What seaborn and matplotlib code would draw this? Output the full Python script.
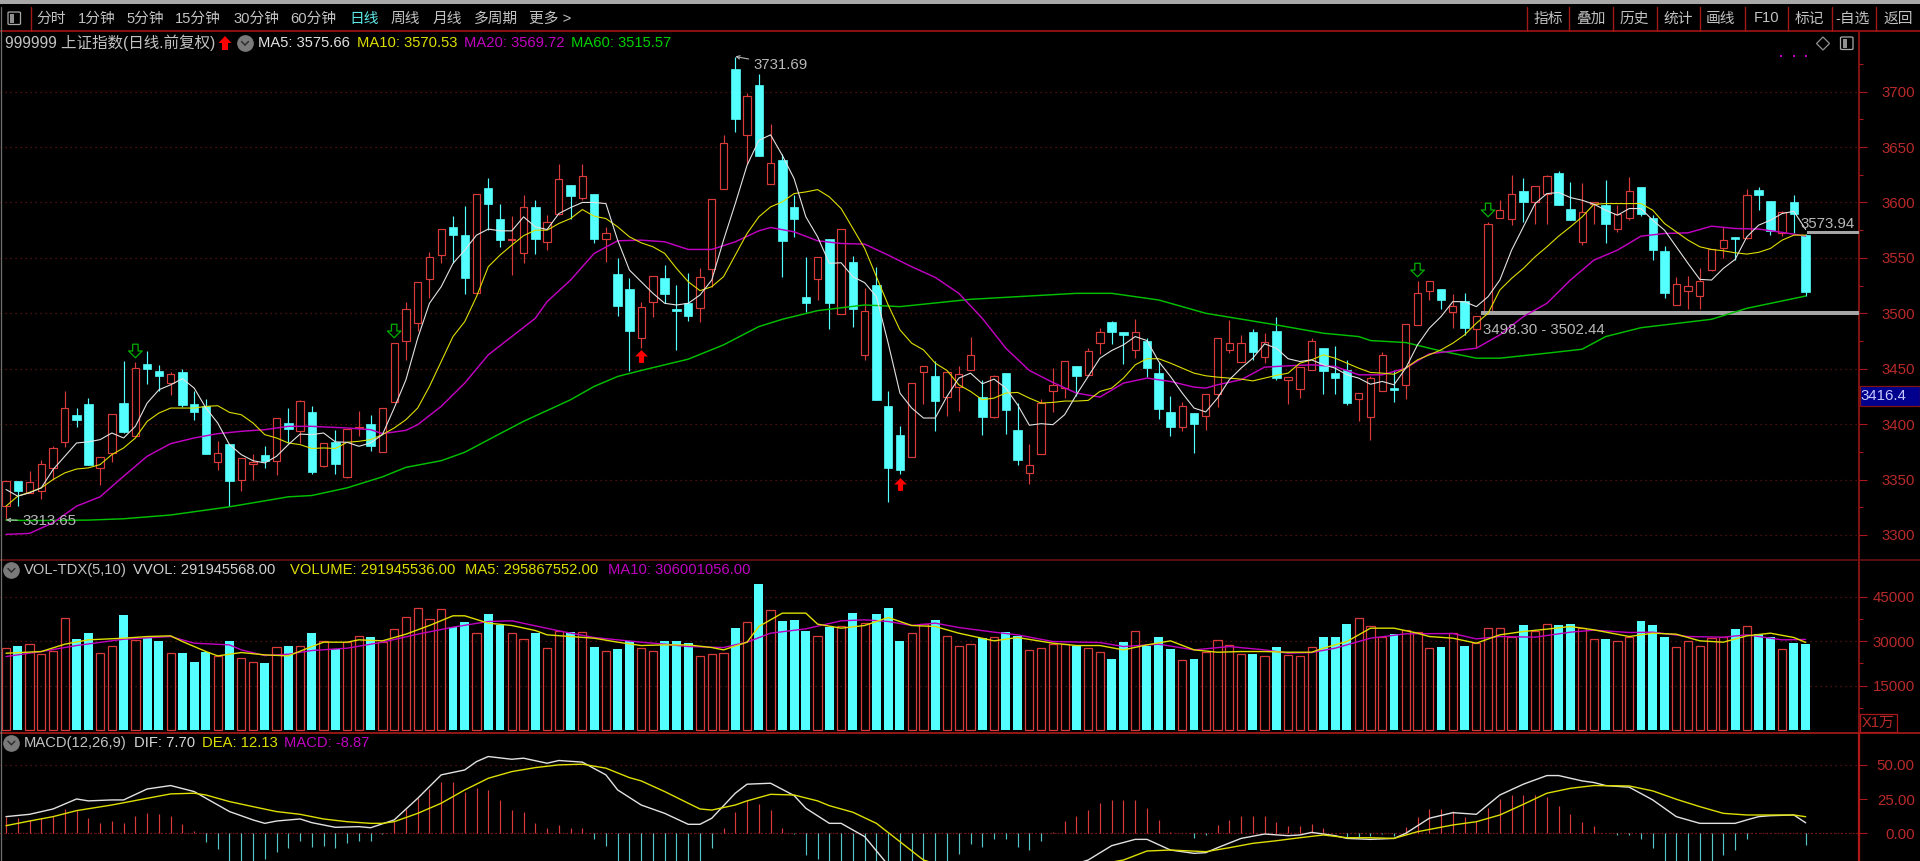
import numpy as np
import matplotlib
matplotlib.use("Agg")
import matplotlib.pyplot as plt
from matplotlib.lines import Line2D
from matplotlib.patches import Rectangle, Polygon, FancyBboxPatch
from matplotlib.path import Path
import seaborn as sns

# Daily OHLC of the index, one entry per session
open_ = [3326,3348.5,3338,3340,3360,3383.6,3408,3418,3360,3374,3419,3389,3454,3448,3436.7,3447,3418,3416,3365.6,3382,
         3350,3364,3372,3367,3400.7,3393.5,3411,3362,3383.6,3352,3396.5,3400,3374.6,3419.6,3474.8,3491.6,3530.7,3552.6,3578,3571,
         3518,3613,3585,3566,3554,3596,3564,3590,3616,3604,3608,3567,3535,3521.6,3477.5,3510.5,3531.5,3503.5,3509,3504.5,
         3539.6,3612,3720.5,3660.5,3706,3616.4,3638.6,3596,3515,3531,3566.6,3499.4,3546.5,3462.5,3525.5,3416,3390,3370.4,3447,3443,
         3424.4,3433.4,3449,3424.4,3406,3446,3394.4,3356,3373.4,3430,3432.5,3452.6,3444.5,3473,3492.5,3483,3467,3475,3446,3411,
         3397.4,3410,3407.6,3427.4,3467,3455.6,3483.5,3461,3484.4,3440,3432,3449,3469,3446,3448.4,3423,3406.4,3429.8,3432.5,3435.5,
         3489.5,3520,3521.6,3501,3511,3485.6,3500,3586,3585,3610,3600,3608,3626.6,3594.5,3564.5,3599,3597.5,3576,3586,3614,
         3586.4,3556.4,3507.5,3520,3515.6,3539,3559,3568.4,3567.5,3611.6,3601.4,3572.6,3600,3570.5]
high = [3348.5,3348.5,3358,3368,3380,3430,3414.5,3423.5,3370,3409,3457,3456,3466,3453.5,3446.6,3449.6,3429.5,3422.6,3384.5,3382,
        3369.8,3373,3380,3405.5,3414.5,3422,3416,3383,3394.4,3396,3412,3408,3414.5,3473,3510.5,3528,3555.6,3575.8,3588,3597,
        3608,3622,3599,3588,3607,3602,3588.7,3635,3616,3635,3608,3578,3549.5,3531.5,3510,3533.7,3543.5,3525.5,3536,3540.5,
        3603.5,3661,3731.69,3698.6,3716,3670.4,3644,3606.5,3551,3550.4,3566.6,3576.5,3551.6,3522.5,3542,3429.5,3398,3437,3452.6,3456.5,
        3447,3452.6,3478.4,3440,3444.5,3446,3419,3382.4,3422.6,3450.5,3457,3452.6,3468.5,3486.5,3493.4,3483,3494.6,3477.5,3456,3425.6,
        3419.6,3410,3427,3477.5,3494,3480.5,3485.6,3482,3497,3442.4,3451.4,3477.5,3469,3470.6,3458,3428,3443,3465.5,3448.4,3490,
        3529.4,3529,3521.6,3517,3518,3497.6,3582.8,3602.6,3625,3622,3614.6,3624.6,3628.4,3618.5,3617.6,3600.6,3620.6,3597.5,3623,3614,
        3588.5,3560.6,3533,3533.6,3540.5,3557.6,3578,3568.4,3612.5,3614,3601.4,3592.4,3607,3571.5]
low = [3313.65,3326,3338,3332,3350,3379,3397,3363,3345,3366,3392,3389,3436,3429.5,3426.5,3415,3404,3373,3359,3326,
       3339.5,3350,3360,3354.5,3383,3383,3355,3361,3355,3351,3389,3376,3374.6,3419.6,3458,3484,3514,3545,3545,3517,
       3518,3575,3560,3534.6,3545,3553.5,3557,3589,3585.5,3602,3563.5,3546.5,3497.6,3447.5,3468.5,3496.4,3509,3467,3493.4,3492.5,
       3524,3612,3663.5,3635,3642,3616.4,3532.4,3569,3501.5,3512,3485.6,3499.4,3488,3458,3422,3329.6,3355.4,3370.4,3418.4,3393.5,
       3407,3411.5,3449,3390,3405.5,3391.4,3363.5,3346.4,3373.4,3410.6,3423.5,3425,3444.5,3463.4,3472.4,3454.4,3459.5,3442.4,3405,3389,
       3393.5,3374,3394.4,3415.4,3464.6,3455.6,3458,3455,3440,3418.4,3424,3449,3427.4,3427.4,3417.5,3403,3386,3429.8,3420,3422.6,
       3489.5,3512,3503.6,3487,3480.5,3468.5,3499,3586,3579.5,3582.5,3580.4,3581,3597.5,3584,3562,3581,3563.6,3573,3584,3587.6,
       3548,3514,3507.5,3504,3503.6,3538.4,3549.5,3548,3566.6,3593.6,3570.5,3569.6,3572,3515.6]
close = [3348.5,3340,3348,3364,3378.5,3414.5,3404,3363,3370,3409,3392.6,3451,3450,3443,3445,3417,3410.6,3373,3374,3348.8,
         3369.8,3365.5,3367,3405.5,3396,3421,3357,3383,3364,3396,3397.5,3380,3414.5,3473,3503.6,3528,3551,3575.8,3570.4,3532,
         3608,3598.6,3566,3567,3595.6,3567,3582,3621,3606,3623.6,3567,3572.6,3506.6,3484,3505.4,3533.7,3517.4,3502.5,3497.6,3532.4,
         3603.5,3653.6,3675,3696,3642,3636,3564.8,3585,3509.6,3550.4,3509.6,3576.5,3503.6,3502.4,3422,3360,3358.4,3437,3452.6,3420.5,
         3447,3445.4,3462.8,3406,3443.6,3413,3368,3363.5,3419,3435.5,3457,3443,3466,3483.5,3483.5,3480.5,3483,3451,3414,3397,
         3416.6,3400.4,3427,3477.5,3473,3473,3465.5,3474,3442,3442.4,3451.4,3475,3448,3442,3419,3428,3442,3462.8,3431,3490,
         3518,3529,3512,3507,3486.5,3497.6,3581,3593,3608,3600.5,3614.6,3624,3597.5,3584,3591,3600.6,3580.4,3590,3610,3590,
         3557,3518.6,3526.4,3524.6,3529.4,3557.6,3566,3567,3606.5,3606.5,3574.4,3591,3589.4,3519.5]

# Moving averages of the close
ma5 = [3341,3335,3338,3342.5,3359,3371,3383,3384,3386,3392,3387.5,3398,3419,3431,3435.5,3441,3432.5,3414.5,3401,3381.5,
       3372.5,3367,3365,3371,3381.5,3391,3390.5,3392,3384,3383.6,3380,3383,3390.5,3414.5,3440,3477.5,3509,3524,3545,3557,
       3570.5,3576,3574.4,3574.4,3587,3578,3575.6,3590,3595.4,3600,3600,3599,3566,3539,3528.5,3518,3509,3507.5,3509,3516.5,
       3530,3566,3599,3633.5,3656,3661,3642.5,3621.5,3587,3569,3545,3545.6,3533,3527.6,3515,3473,3428,3414.5,3405.5,3405.5,
       3425,3441.5,3446,3436.4,3440.6,3432.5,3417.5,3399,3400.4,3399.5,3408.5,3426.5,3443,3459.5,3466.4,3471.5,3479,3475.4,3456.5,3443,
       3428,3414.5,3411,3423.5,3440,3450.5,3459.5,3472.4,3468.5,3459,3456.5,3458,3453.5,3450.5,3444.5,3441.5,3436,3438.5,3435.5,3450.5,
       3471.5,3486.5,3497,3510.5,3510.5,3506,3515,3530,3557,3578,3599,3608,3609,3604.4,3602,3598.4,3593,3588.5,3594.5,3594.5,
       3584,3575,3560,3545,3530.6,3530,3540.5,3548.6,3569,3579.5,3584,3590,3592,3575.66]
ma10 = [3326,3335,3338.5,3342.5,3350,3356,3359.5,3360.5,3363.5,3372.5,3378.5,3387.5,3402.5,3410,3414.5,3414.5,3414.5,3416,3416.6,3410.6,
        3408.5,3401,3390.5,3387.5,3383,3381.5,3378,3378.5,3378,3383.6,3384.5,3386,3390.5,3396.5,3404,3414.5,3434,3456.5,3479,3492.5,
        3515,3542,3552.5,3561.5,3570,3575,3575,3581,3585.5,3593.6,3587.6,3585.5,3578,3569,3563.6,3560,3554,3540.5,3528.5,3520.4,
        3524,3533,3552.5,3572,3587,3596,3600.5,3608,3609.5,3611.6,3605,3594.5,3576.5,3558.5,3533,3507.5,3485,3473,3467,3455,
        3448.4,3435.5,3429.5,3422,3423.5,3428,3428.6,3423.5,3419,3419.6,3420.8,3420.8,3421.4,3429.5,3432.5,3441.5,3453.5,3459,3459,3455,
        3450.5,3446,3443.6,3442.4,3441.5,3440.6,3439,3441.5,3444,3446,3455,3458,3462.5,3459.5,3455,3450.5,3446.6,3446,3445,3450.5,
        3458,3462.5,3467,3473,3480.5,3491,3500,3521,3531.5,3540.5,3551,3560,3569.6,3578,3587,3598.4,3599,3599,3599,3599,
        3593,3581,3573.5,3566,3560,3557.6,3556.4,3554.6,3553.4,3555,3558.5,3566,3570.5,3570.53]
ma20_idx = [0,2,4,6,8,10,12,14,16,18,20,22,24,26,29,31,32,34,35,37,39,41,43,45,46,48,50,52,54,56,58,60,62,64,65,67,69,71,73,75,
            77,79,81,83,85,87,89,91,93,95,97,99,101,102,103,105,107,109,111,113,115,117,119,121,123,125,127,129,131,133,135,137,139,141,143,145,147,149,151,153]
ma20 = [3300.5,3301.4,3311,3326,3334.4,3353,3371,3382.4,3387.5,3391.4,3393.5,3395,3398,3398,3396.5,3395,3391.4,3394.4,3399.5,3416,
        3437,3462.5,3479,3495.5,3510.5,3530,3554,3565.4,3566,3564.5,3557.6,3557.6,3564.5,3574.4,3577.4,3573.5,3565.4,3563,3562.4,3552.5,
        3542,3532.4,3518,3495.5,3468.5,3448.4,3437.6,3428,3424.4,3437,3441.5,3438.5,3433.4,3432.5,3435.5,3440,3451.4,3452.6,3453.5,3452,
        3444.5,3444.5,3450.5,3463.4,3466,3468.5,3480.5,3497,3509,3530,3548,3557,3569.6,3572,3572.6,3578.6,3576.5,3576,3573,3569.72]
ma60_idx = [0,2,7,10,14,19,24,26,29,32,34,37,39,42,44,48,50,52,54,58,61,64,66,69,73,76,82,85,91,94,98,102,108,112,115,116,119,122,125,127,131,134,136,139,145,148,153]
ma60 = [3313.4,3313,3313.4,3314.6,3318,3325.4,3334.4,3335.6,3342.5,3352.4,3361,3367,3374.6,3391.4,3402.5,3422,3434,3443,3448.4,3458.6,
        3471.5,3488,3494.6,3502.4,3507.5,3506,3512.6,3514.4,3518,3518,3512,3500,3489.5,3482,3479,3475.4,3473.6,3466,3459.5,3459.5,3464,3467.6,3479,3487,3494.6,3504.5,3515.57]

# Session volume, in units of 10,000 shares
volume = [27860,28540,29000,25600,26730,37790,30680,32825,25950,28430,38690,30460,31020,30230,25950,26170,23120,26280,25040,30230,
          24250,23010,22560,27970,28540,28540,32710,30120,27410,29670,31920,31470,29670,34070,38240,41170,37450,40830,34740,36550,
          32710,39140,35530,32710,30680,32825,27640,33280,33050,33050,28200,26850,27300,30120,27860,26730,30230,30230,29330,25040,
          25600,25950,34520,36430,49290,40380,36660,37000,33610,31920,34630,35300,39480,36100,39140,41170,30230,32710,35870,37110,
          31920,28540,29000,31250,31360,33050,31810,27180,27640,29210,28990,28540,27640,26280,23910,29890,33500,28310,31580,27300,
          23800,23910,26510,30570,28760,25600,25600,25150,28090,25380,25040,27970,31580,31580,35760,37790,35300,31360,32370,33840,
          32940,27640,28200,32710,28540,29550,34400,34400,31580,35420,33500,35760,35420,35760,34400,30680,30680,30230,31580,36660,
          35420,31580,28090,30230,28540,31250,31360,34070,34970,32490,31360,27300,29550,29194.55]
vma5_idx = [0,3,5,7,10,12,14,15,17,18,20,22,24,26,27,29,30,32,34,36,38,39,41,43,45,46,48,50,52,54,56,58,60,61,63,64,66,68,69,71,73,75,77,79,81,84,86,89,91,93,95,97,99,101,103,105,107,109,111,112,114,116,118,120,121,123,125,127,129,131,133,135,138,140,142,144,146,148,150,152,153]
vma5 = [25940,26510,28990,30460,31020,31580,31810,29890,26510,25040,26170,25380,25040,28200,29670,29670,30460,30120,32370,35310,38580,38580,36100,35310,33610,32150,31580,31020,29670,28540,
        28760,28760,27860,27070,29670,34970,39480,39480,35760,34400,35310,38010,35310,34970,32710,30120,31250,29330,28540,28540,27070,28760,30120,27070,26280,26510,26510,
        26280,26280,27640,29890,34400,34400,32710,31580,31020,29330,32150,33280,34070,34970,33840,31580,32710,32370,30120,29670,31810,32710,31250,29586.76]
vma10_idx = [0,3,6,10,14,16,19,20,22,24,26,29,32,35,38,41,43,47,50,54,56,58,61,63,65,68,71,73,75,77,79,81,84,86,89,93,95,98,101,104,107,109,111,113,116,119,123,125,127,130,133,135,138,140,143,146,148,151,153]
vma10 = [24820,26510,28540,30680,31580,29330,28760,27070,25150,25610,26850,27640,29670,32370,34740,36660,36890,33500,31250,29670,28990,28200,27860,29670,32710,34180,36890,37220,36660,35310,36100,34630,33050,32150,29890,29550,28200,28990,27070,28200,27070,
         25940,26170,27640,31020,32490,32600,30790,31580,31360,33050,33730,32940,33050,31580,31360,32150,30460,30600.11]

# MACD(12,26,9) lines and histogram
dif_idx = [0,2,4,6,7,9,10,12,14,16,17,19,21,22,23,25,26,28,30,31,33,35,37,39,40,41,43,44,46,47,49,51,52,54,56,58,59,60,62,63,65,67,68,70,71,73,75,78,83,88,92,94,96,97,99,101,102,103,105,107,109,110,111,113,114,116,118,119,121,123,125,127,129,131,132,134,135,136,138,140,142,144,147,148,149,150,152,153]
dif = [12.2,13.9,17.8,25.1,23.7,24.4,24.4,32.4,34.9,30.5,25.6,15.9,9.8,7.3,9.0,10.5,7.8,4.4,4.9,4.1,9.8,25.6,42.7,46.3,52.4,56.1,54.1,54.9,51.2,53.2,52,42.7,31.7,20.7,14.6,6.6,6.6,11,29.3,35.9,36.6,27.6,18.3,7.3,7.3,-2.4,-23.2,-31,-36,-30,-19.5,-9,-4.4,-4.4,-12.2,-14.6,-14.1,-10.5,-3.7,-0.5,
       -1.7,-1.2,0.7,-1.7,-3.7,-4.4,-3.7,0,11,15.1,13.9,28,35.9,42.2,42.2,38.3,37.1,34.9,33.7,24.4,12.2,7.3,7.3,9.8,12.2,12.9,13.4,7.70]
dea_idx = [0,2,4,6,9,12,14,16,17,19,21,23,25,27,29,31,32,33,35,37,39,41,43,45,47,49,51,53,54,56,58,59,60,62,63,65,67,69,70,72,74,76,78,82,87,92,95,97,99,102,104,106,108,110,112,114,116,118,120,123,125,127,129,131,133,135,138,140,142,144,146,148,150,152,153]
dea = [5.6,9,12.2,16.6,20.7,25.6,28.8,29.3,28,23.2,19.5,15.9,13.9,10.5,8.5,7.3,7.3,8.5,14.6,22,31.7,40.2,45.1,48,50,50.5,47.6,40.7,38.3,30.5,22,17.8,17,20.7,23.7,28.5,28,23.7,20.2,15.4,7.3,-6.1,-19.5,-30,-31,-24,-19.5,-12.9,-12.2,-13.4,-10.5,-7.3,-5.4,-3.2,-1.2,-3.2,-3.2,-3.7,1.2,6.1,8.5,13.4,21.2,29.3,32.9,34.9,34.6,31,24.9,19.5,14.6,13.4,13.4,13.4,12.13]
macd = [12,11,9.8,11,12.7,17.6,17,11,7.3,9.3,7.3,12.7,15.1,13.9,12.9,6.6,2,-6.1,-11.7,-20.5,
        -21.5,-22,-18.8,-13.4,-10.5,-5.4,-9.8,-9,-10.5,-7.3,-5.6,-5.4,-0.7,8.5,17.8,25.6,32.4,37.8,37.8,30,
        33.4,31.7,24.4,17,15.4,7.8,3.7,6.1,4.1,4.1,-4.4,-9,-21,-24,-26,-25,-25,-24,-22,-20,
        -10.5,4.1,15.9,24.4,21.2,17,3.7,-0.7,-15.9,-18.8,-21,-24,-25,-26,-26,-28,-27,-26,-25,-24,
        -21,-15.4,-8,-9.8,-4.1,-4.1,-9.8,-12.2,-5.4,0.7,9,12.7,16.8,22.4,24.1,24.1,24.1,18.8,9.8,0.7,
        0,-3.2,-1.2,5.9,9.8,12.7,12.7,12.9,8.5,5.6,5.6,6.6,3.7,0.5,-2.4,-2.4,-2,-0.2,-2,4.9,
        12.2,17.6,17.8,16.3,12.2,9.3,18.8,24.9,28,28,28,26.8,20.2,14.1,8.5,5.6,0,-1.2,-1.2,-4.1,
        -10.5,-20.2,-21,-21,-21,-21,-15.9,-12.2,-4.1,0.3,0.2,0.2,0.2,-8.87]

# Signal arrows: session index and price level
buy_idx, buy_lvl = [54, 76], [3461.5, 3346]
sell_idx, sell_lvl = [11, 33, 120, 126], [3466, 3484, 3539, 3593.2]

# Axis tick labels
price_ticks = [3300, 3350, 3400, 3450, 3500, 3550, 3600, 3650, 3700]
vol_ticks = [15000, 30000, 45000]
macd_ticks = [0, 25, 50]

toolbar_left = [("分时", 36), ("1分钟", 78), ("5分钟", 126), ("15分钟", 175), ("30分钟", 233), ("60分钟", 290),
                ("日线", 349), ("周线", 391), ("月线", 433), ("多周期", 474), ("更多 >", 529)]
toolbar_right = [("指标", 1534), ("叠加", 1576), ("历史", 1620), ("统计", 1664), ("画线", 1706),
                 ("F10", 1754), ("标记", 1795), ("-自选", 1835), ("返回", 1884)]
toolbar_sep = [1527, 1569, 1613, 1657, 1700, 1744.5, 1788, 1832, 1876]

RED = "#d93a3a"
CYAN = "#54ffff"
HIST_CYAN = "#55c4c4"
AXIS_RED = "#a81818"
LABEL_RED = "#b92a2a"
GRID = "#661616"
GREY = "#b8b8b8"
WHITE = "#e2e2e2"
YELLOW = "#dede00"
MAGENTA = "#c000c0"
GREEN = "#00c000"

sns.set_theme(style="white", rc={"axes.facecolor": "black", "figure.facecolor": "black", "savefig.facecolor": "black"})
plt.rcParams["font.family"] = ["Liberation Sans", "Noto Sans CJK SC", "DejaVu Sans"]

W, H = 1920, 861
RIGHT = 1858.6
fig = plt.figure(figsize=(W / 100, H / 100), dpi=100)


def fx(x):
    return x / W


def fy(y):
    return 1 - y / H


def panel(top, bottom, ylim, levels):
    ax = fig.add_axes([0, fy(bottom), RIGHT / W, (bottom - top) / H])
    ax.set_xlim(-0.51, 157.5)
    ax.set_ylim(*ylim)
    for s in ("top", "bottom", "left"):
        ax.spines[s].set_visible(False)
    ax.spines["right"].set_color(AXIS_RED)
    ax.spines["right"].set_linewidth(1.1)
    ax.hlines(levels, -0.51, 157.5, colors=GRID, linestyles=(0, (1, 3)), linewidth=0.9, zorder=0)
    return ax


def finish(ax, ylim, ticks, labels, minor):
    ax.set_xlim(-0.51, 157.5)
    ax.set_ylim(*ylim)
    ax.set_xticks([])
    ax.set_xlabel("")
    ax.set_ylabel("")
    ax.yaxis.tick_right()
    ax.set_yticks(ticks)
    ax.set_yticklabels(labels, ha="right", color=LABEL_RED, fontsize=10.8)
    ax.set_yticks(minor, minor=True)
    ax.tick_params(axis="y", which="major", length=5.8, width=0.8, color=AXIS_RED, pad=34.6, right=True)
    ax.tick_params(axis="y", which="minor", length=3.0, width=0.8, color=AXIS_RED, right=True)
    ax.grid(False)


def ftext(x, y, s, color=GREY, size=10.6, ha="left", **kw):
    fig.text(fx(x), fy(y), s, color=color, fontsize=size, ha=ha, va="center", **kw)


def line(x, y, color, ax, lw=0.8):
    sns.lineplot(x=x, y=y, color=color, linewidth=lw, ax=ax, estimator=None, errorbar=None, legend=False, zorder=5)


def fig_add(patch):
    patch.set_transform(fig.transFigure)
    fig.add_artist(patch)


def fig_rect(x0, y0, x1, y1, **kw):
    fig_add(Rectangle((fx(x0), fy(y1)), (x1 - x0) / W, (y1 - y0) / H, **kw))


def fig_line(x0, y0, x1, y1, color, lw=1.0):
    fig.add_artist(Line2D([fx(x0), fx(x1)], [fy(y0), fy(y1)], color=color, linewidth=lw, transform=fig.transFigure))


sessions = np.arange(len(close))
o, h, l, c = map(np.array, (open_, high, low, close))
up = c >= o
vols = np.array(volume)

# ---------- price panel ----------
price_ylim = (3278.3, 3754.7)
ax_p = panel(31, 559, price_ylim, price_ticks)
ax_p.vlines(sessions[up], l[up], h[up], color=RED, linewidth=0.85, zorder=2)
ax_p.vlines(sessions[~up], l[~up], h[~up], color=CYAN, linewidth=0.85, zorder=2)
ax_p.bar(sessions[up], (c - o)[up], bottom=o[up], width=0.62, facecolor="black", edgecolor=RED, linewidth=0.85, zorder=3)
ax_p.bar(sessions[~up], (o - c)[~up], bottom=c[~up], width=0.72, facecolor=CYAN, edgecolor=CYAN, linewidth=0.5, zorder=3)

line(ma60_idx, ma60, GREEN, ax_p, 1.05)
line(ma20_idx, ma20, MAGENTA, ax_p, 1.05)
line(sessions, ma10, YELLOW, ax_p)
line(sessions, ma5, WHITE, ax_p)

# Hollow down arrows and solid up arrows marking signals
down_arrow = Path([(-0.4, 0.0), (-0.4, 1.0), (0.4, 1.0), (0.4, 0.0), (1.0, 0.0), (0.0, -1.0), (-1.0, 0.0), (-0.4, 0.0)], closed=True)
up_arrow = Path([(-0.4, 0.0), (-0.4, -1.0), (0.4, -1.0), (0.4, 0.0), (1.0, 0.0), (0.0, 1.0), (-1.0, 0.0), (-0.4, 0.0)], closed=True)
ax_p.scatter(sell_idx, sell_lvl, marker=down_arrow, s=95, facecolors="none", edgecolors="#00b000", linewidths=0.9, zorder=6)
ax_p.scatter(buy_idx, buy_lvl, marker=up_arrow, s=85, color="#ff0000", linewidths=0, zorder=6)

# High and low call-outs
ax_p.annotate("3731.69", xy=(62, 3731.69), xytext=(18, -8.5), textcoords="offset pixels", color=GREY, fontsize=10.8, va="center",
              arrowprops=dict(arrowstyle="->", color=GREY, linewidth=0.8, shrinkA=1, shrinkB=0, mutation_scale=6), zorder=7)
ax_p.annotate("3313.65", xy=(0, 3313.65), xytext=(16, -1.5), textcoords="offset pixels", color=GREY, fontsize=10.8, va="center",
              arrowprops=dict(arrowstyle="->", color=GREY, linewidth=0.8, shrinkA=1, shrinkB=0, mutation_scale=6), zorder=7)

# Support and resistance bands drawn up to the price scale
ax_p.fill_between([125.4, 157.5], [3498.30, 3498.30], [3502.44, 3502.44], color="#a6a6a6", linewidth=0, zorder=4)
ax_p.fill_between([153.1, 157.5], [3571.5, 3571.5], [3573.94, 3573.94], color="#a6a6a6", linewidth=0, zorder=4)
ax_p.text(125.6, 3485.2, "3498.30 - 3502.44", color=GREY, fontsize=10.8, va="center", zorder=7)
ax_p.text(152.6, 3580.5, "3573.94", color=GREY, fontsize=10.8, va="center", zorder=7)

finish(ax_p, price_ylim, price_ticks, [str(t) for t in price_ticks], [3325, 3375, 3425, 3475, 3525, 3575, 3625, 3675, 3725])

# ---------- volume panel ----------
vol_ylim = (-912, 57535)
ax_v = panel(559.7, 732.7, vol_ylim, vol_ticks)
sns.barplot(x=sessions[up], y=vols[up], native_scale=True, color=RED, fill=False, width=0.7, linewidth=0.9,
            errorbar=None, saturation=1, ax=ax_v, legend=False, zorder=2)
sns.barplot(x=sessions[~up], y=vols[~up], native_scale=True, color=CYAN, width=0.76, linewidth=0,
            errorbar=None, saturation=1, ax=ax_v, legend=False, zorder=3)
line(vma10_idx, vma10, MAGENTA, ax_v, 1.0)
line(vma5_idx, vma5, YELLOW, ax_v, 1.0)
finish(ax_v, vol_ylim, vol_ticks, [str(t) for t in vol_ticks], [7500, 22500, 37500])

# ---------- MACD panel ----------
macd_ylim = (-20.2, 73.5)
ax_m = panel(732.7, 861, macd_ylim, [0, 50])
hist = np.array(macd)
ax_m.vlines(sessions[hist >= 0], 0, hist[hist >= 0], color=RED, linewidth=0.85, zorder=2)
ax_m.vlines(sessions[hist < 0], 0, hist[hist < 0], color=HIST_CYAN, linewidth=0.85, zorder=2)
ax_m.axhline(0, color="#801818", linestyle=(0, (1, 2)), linewidth=0.9, zorder=1)
line(dif_idx, dif, WHITE, ax_m, 1.0)
line(dea_idx, dea, YELLOW, ax_m, 1.0)
finish(ax_m, macd_ylim, macd_ticks, ["0.00", "25.00", "50.00"], [])

# ---------- window chrome ----------
fig_rect(0, 0, W, 4, facecolor="#a8a8a8", edgecolor="none")
fig_line(0, 31, W, 31, "#8c1010", 1.4)
fig_line(0, 559.7, W, 559.7, "#701414", 1.1)
fig_line(0, 732.7, W, 732.7, "#a01818", 1.3)
fig_line(RIGHT + 0.5, 732.7, RIGHT + 0.5, H, "#b01818", 1.6)
fig_line(0.5, 7, 0.5, H, "#707070", 0.9)
fig_line(30.6, 7, 30.6, 31, "#a01818", 1.0)
for sep in toolbar_sep:
    fig_line(sep, 7, sep, 31, "#a01818", 1.0)

for label, x in toolbar_left:
    ftext(x, 18.5, label, color="#5ee8e8" if label == "日线" else "#c2c2c2", size=10.6)
for label, x in toolbar_right:
    ftext(x, 18.5, label, color="#c2c2c2", size=10.6)

# Panel toggle icons
for bx, by in ((8, 12), (1840.5, 37)):
    fig_add(FancyBboxPatch((fx(bx), fy(by + 12.5)), 12.5 / W, 12.5 / H, boxstyle="round,pad=0,rounding_size=0.001",
                           facecolor="none", edgecolor="#a8a8a8", linewidth=0.9))
    fig_rect(bx + 2, by + 2, bx + 6, by + 10.5, facecolor="#909090", edgecolor="none")
fig_add(Polygon([(fx(1823), fy(37)), (fx(1829.5), fy(43.5)), (fx(1823), fy(50)), (fx(1816.5), fy(43.5))],
                closed=True, facecolor="none", edgecolor="#909090", linewidth=0.9))
for dot_x in (1781, 1794, 1806):
    fig_rect(dot_x - 1, 54.7, dot_x + 1, 56.7, facecolor=MAGENTA, edgecolor="none")

# Collapse buttons in front of each indicator title
for cx, cy in ((245, 43), (11.4, 570), (11.4, 742.7)):
    fig.add_artist(Line2D([fx(cx)], [fy(cy)], marker="o", markersize=11, color="#7a7a7a", linestyle="none", transform=fig.transFigure))
    fig_line(cx - 3.5, cy - 1.5, cx, cy + 2, "#2a2a2a", 1.0)
    fig_line(cx, cy + 2, cx + 3.5, cy - 1.5, "#2a2a2a", 1.0)

# Title rows
ftext(5, 43, "999999 上证指数(日线.前复权)", color="#c2c2c2", size=11.2)
fig_add(Polygon([(fx(225), fy(36)), (fx(231.5), fy(43)), (fx(228), fy(43)), (fx(228), fy(50)),
                 (fx(222), fy(50)), (fx(222), fy(43)), (fx(218.5), fy(43))], closed=True, facecolor="#ff0000", edgecolor="none"))
ftext(258, 43, "MA5: 3575.66", color=WHITE)
ftext(357, 43, "MA10: 3570.53", color=YELLOW)
ftext(464, 43, "MA20: 3569.72", color=MAGENTA)
ftext(571, 43, "MA60: 3515.57", color="#00d000")

ftext(23.7, 570, "VOL-TDX(5,10)", color="#c2c2c2")
ftext(132.6, 570, "VVOL: 291945568.00", color="#d0d0d0")
ftext(290, 570, "VOLUME: 291945536.00", color=YELLOW)
ftext(465, 570, "MA5: 295867552.00", color=YELLOW)
ftext(608, 570, "MA10: 306001056.00", color=MAGENTA)

ftext(23.7, 742.7, "MACD(12,26,9)", color="#c2c2c2")
ftext(134, 742.7, "DIF: 7.70", color="#d8d8d8")
ftext(202, 742.7, "DEA: 12.13", color=YELLOW)
ftext(284, 742.7, "MACD: -8.87", color=MAGENTA)

# Cursor price readout and volume unit tag on the right scale
fig_rect(1859.6, 386, 1920, 406, facecolor="#00008c", edgecolor="#801414", linewidth=0.9, zorder=8)
fig.text(fx(1860.5), fy(396), "3416.4", color="#c8c8ff", fontsize=10.8, va="center", ha="left", zorder=9)
fig_rect(1860, 714, 1897, 732, facecolor="black", edgecolor=AXIS_RED, linewidth=0.9, zorder=8)
fig.text(fx(1878.5), fy(723), "X1万", color=LABEL_RED, fontsize=10.6, va="center", ha="center", zorder=9)

fig.savefig("out.png", dpi=100, facecolor="black")
